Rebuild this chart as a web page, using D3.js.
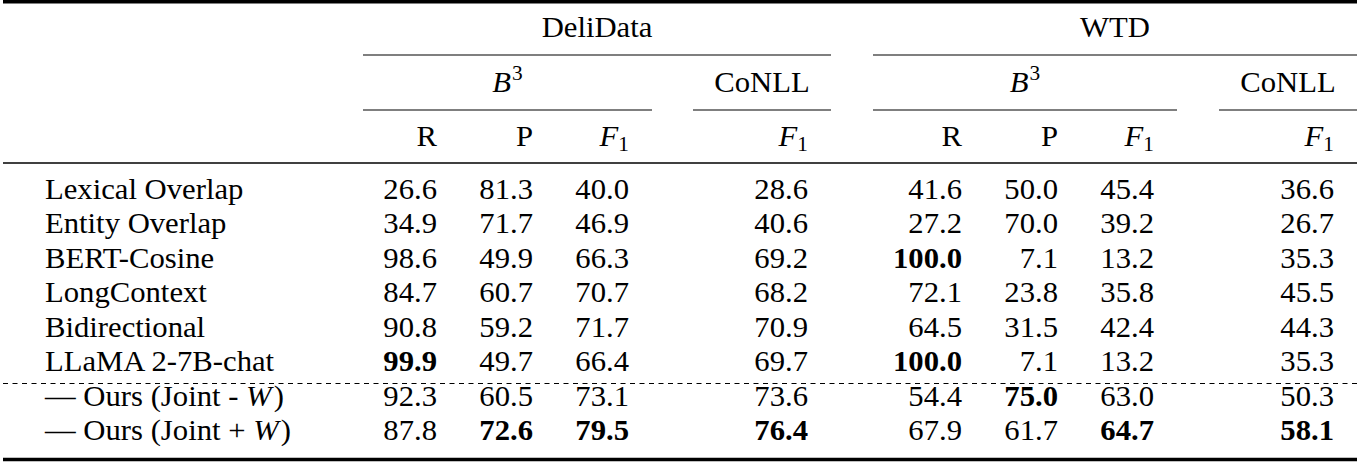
<!DOCTYPE html>
<html>
<head>
<meta charset="utf-8">
<script src="https://cdn.jsdelivr.net/npm/d3@7"></script>
<style>
    body { margin: 0; background: #fff; }
    svg { display: block; }
    text { font-family: "Liberation Serif", "Times New Roman", serif; fill: #000; }
</style>
</head>
<body>
<div class="canvas"></div>
<script>
//Table data
const methods = [
    'Lexical Overlap',
    'Entity Overlap',
    'BERT-Cosine',
    'LongContext',
    'Bidirectional',
    'LLaMA 2-7B-chat',
    '— Ours (Joint - W)',
    '— Ours (Joint + W)'
];
const datasets = ['DeliData', 'WTD'];
const metricGroups = ['B3', 'CoNLL'];
const subHeaders = ['R', 'P', 'F1', 'F1'];

const deliR = [26.6, 34.9, 98.6, 84.7, 90.8, 99.9, 92.3, 87.8],
    deliP = [81.3, 71.7, 49.9, 60.7, 59.2, 49.7, 60.5, 72.6],
    deliF1 = [40.0, 46.9, 66.3, 70.7, 71.7, 66.4, 73.1, 79.5],
    deliConll = [28.6, 40.6, 69.2, 68.2, 70.9, 69.7, 73.6, 76.4],
    wtdR = [41.6, 27.2, 100.0, 72.1, 64.5, 100.0, 54.4, 67.9],
    wtdP = [50.0, 70.0, 7.1, 23.8, 31.5, 7.1, 75.0, 61.7],
    wtdF1 = [45.4, 39.2, 13.2, 35.8, 42.4, 13.2, 63.0, 64.7],
    wtdConll = [36.6, 26.7, 35.3, 45.5, 44.3, 35.3, 50.3, 58.1];

//bold rows per column (same order as columns below)
const boldRows = [[5], [7], [7], [7], [2, 5], [6], [7], [7]];

//Layout
const
    width = 1360,
    height = 463,
    fontSize = 28.8,
    smallSize = 20,
    stretch = 1.065, //picture is a bit wider than tall
    labelX = 45,
    ruleL = 3,
    ruleR = 1357,
    cellPad = 23,
    //column cells: left / right edge of each value column
    cellEdges = [[363, 460], [460, 556], [556, 652], [693, 831], [873, 985], [985, 1081], [1081, 1177], [1219, 1357]],
    headerY = { dataset: 37, group: 92, sub: 146 },
    ruleY = { top: 1.7, dataset: 55, group: 110, head: 163, dash: 383.5, bottom: 459.5 };

const columns = [deliR, deliP, deliF1, deliConll, wtdR, wtdP, wtdF1, wtdConll].map((values, i) => ({
    id: 'c' + i,
    values: values,
    bold: boldRows[i],
    sub: subHeaders[i % 4],
    dataset: datasets[Math.floor(i / 4)],
    group: metricGroups[i % 4 < 3 ? 0 : 1]
}));

const xRight = d3.scaleOrdinal()
    .domain(columns.map(c => c.id))
    .range(cellEdges.map(e => e[1] - cellPad));

const yRow = d3.scaleLinear()
    .domain([0, methods.length - 1])
    .range([198.5, 440]);

const svg = d3.select('.canvas')
    .append('svg')
    .attr('width', width)
    .attr('height', height);

const place = (x, y) => `translate(${x},${y}) scale(${stretch},1)`;

//span of a set of columns
const span = ids => {
    const idx = ids.map(id => columns.findIndex(c => c.id === id));
    return [cellEdges[d3.min(idx)][0], cellEdges[d3.max(idx)][1]];
};

//Rules
const hrule = (y, x1, x2, w, dash) => svg.append('line')
    .attr('x1', x1).attr('x2', x2)
    .attr('y1', y).attr('y2', y)
    .attr('stroke', '#000')
    .attr('stroke-width', w)
    .attr('stroke-dasharray', dash || null);

hrule(ruleY.top, ruleL, ruleR, 3.5);
hrule(ruleY.head, ruleL, ruleR, 1.6);
hrule(ruleY.dash, ruleL, ruleR, 1.1, '5,4.5');
hrule(ruleY.bottom, ruleL, ruleR, 3.5);

//Dataset headers
datasets.forEach(ds => {
    const [x1, x2] = span(columns.filter(c => c.dataset === ds).map(c => c.id));
    hrule(ruleY.dataset, x1, x2, 1.2);
    svg.append('text')
        .attr('transform', place((x1 + x2) / 2, headerY.dataset))
        .attr('text-anchor', 'middle')
        .attr('font-size', fontSize)
        .text(ds);

    metricGroups.forEach(g => {
        const [g1, g2] = span(columns.filter(c => c.dataset === ds && c.group === g).map(c => c.id));
        hrule(ruleY.group, g1, g2, 1.2);
        const t = svg.append('text')
            .attr('transform', place((g1 + g2) / 2, headerY.group))
            .attr('text-anchor', 'middle')
            .attr('font-size', fontSize);
        if (g === 'B3') {
            t.append('tspan').attr('font-style', 'italic').text('B');
            t.append('tspan').attr('font-size', smallSize).attr('dy', -12).attr('dx', 1).text('3');
        } else {
            t.text(g);
        }
    });
});

//Sub headers
columns.forEach(c => {
    const t = svg.append('text')
        .attr('transform', place(xRight(c.id), headerY.sub))
        .attr('text-anchor', 'end')
        .attr('font-size', fontSize);
    if (c.sub === 'F1') {
        t.append('tspan').attr('font-style', 'italic').text('F');
        t.append('tspan').attr('font-size', smallSize).attr('dy', 5).text('1');
    } else {
        t.text(c.sub);
    }
});

//Row labels
svg.selectAll('text.label')
    .data(methods)
    .enter()
    .append('text')
    .attr('class', 'label')
    .attr('transform', (d, i) => place(labelX, yRow(i)))
    .attr('font-size', fontSize)
    .each(function (d) {
        const m = d.match(/^(.*)W\)$/);
        const t = d3.select(this);
        if (m) {
            t.append('tspan').text(m[1]);
            t.append('tspan').attr('font-style', 'italic').text('W');
            t.append('tspan').attr('dx', 2).text(')');
        } else {
            t.text(d);
        }
    });

//Values
columns.forEach(c => {
    svg.selectAll(`text.${c.id}`)
        .data(c.values)
        .enter()
        .append('text')
        .attr('class', c.id)
        .attr('transform', (d, i) => place(xRight(c.id), yRow(i)))
        .attr('text-anchor', 'end')
        .attr('font-size', fontSize)
        .attr('font-weight', (d, i) => c.bold.includes(i) ? 'bold' : null)
        .text(d => d3.format('.1f')(d));
});
</script>
</body>
</html>
